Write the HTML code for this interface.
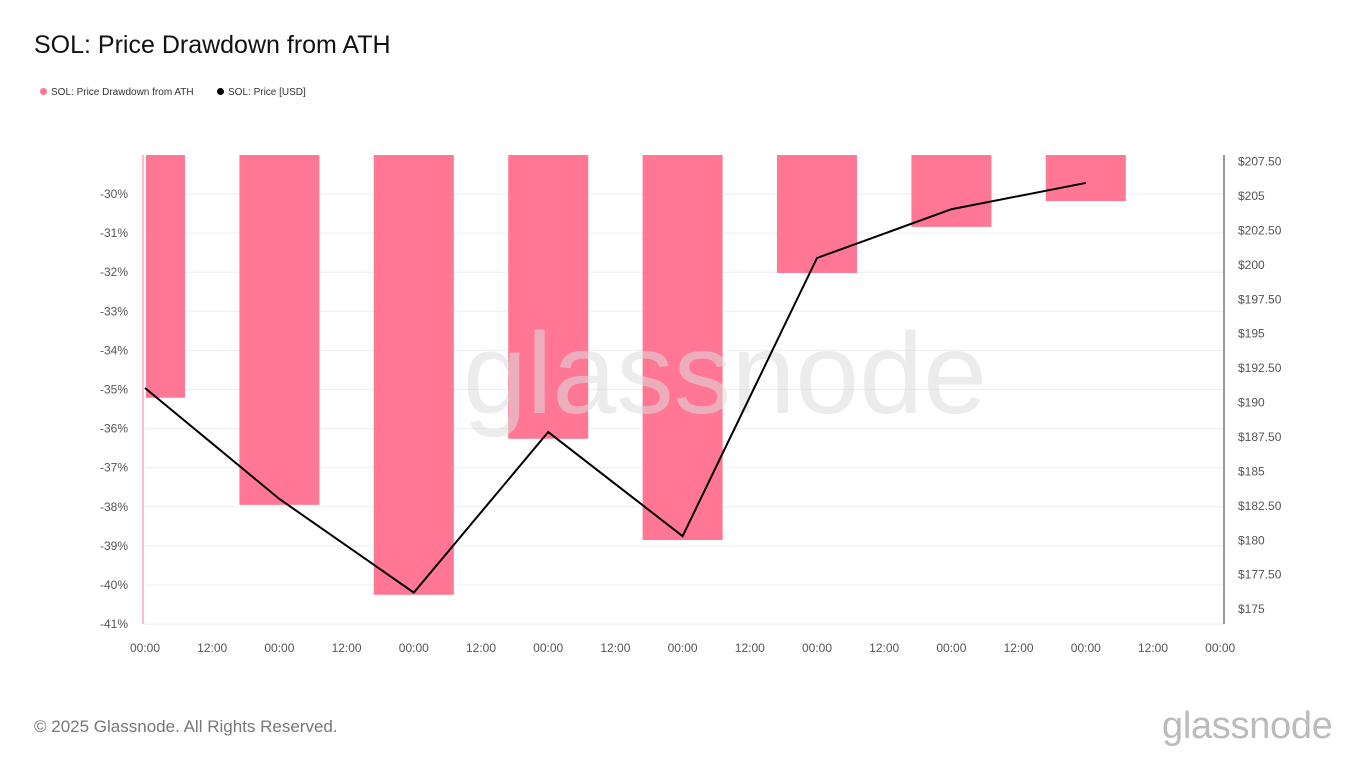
<!DOCTYPE html>
<html><head><meta charset="utf-8">
<style>
body{margin:0;width:1366px;height:768px;background:#fff;font-family:"Liberation Sans",sans-serif;overflow:hidden;position:relative}
.t{position:absolute}
</style></head><body>
<div class="t" style="left:34px;top:31px;font-size:25px;color:#111">SOL: Price Drawdown from ATH</div>
<div class="t" style="left:40px;top:87px;font-size:10px;color:#333"><span style="display:inline-block;width:7px;height:7px;border-radius:50%;background:#ff7794;margin-right:4px"></span>SOL: Price Drawdown from ATH</div>
<div class="t" style="left:217px;top:87px;font-size:10px;color:#333"><span style="display:inline-block;width:7px;height:7px;border-radius:50%;background:#000;margin-right:4px"></span>SOL: Price [USD]</div>
<svg id="c" width="1366" height="768" style="position:absolute;left:0;top:0"></svg>
<div class="t" style="left:34px;top:717px;font-size:17px;color:#777">© 2025 Glassnode. All Rights Reserved.</div>
<div class="t" style="left:1162px;top:705px;font-size:38px;color:#bbb;letter-spacing:-0.3px">glassnode</div>
<script>
const dayLabels=["00:00","12:00","00:00","12:00","00:00","12:00","00:00","12:00","00:00","12:00","00:00","12:00","00:00","12:00","00:00","12:00","00:00"];
const drawdown=[-35.21,-37.95,-40.25,-36.26,-38.85,-32.02,-30.84,-30.18];
const price=[191.06,183.0,176.2,187.86,180.3,200.5,204.04,205.95];
const leftTicks=[-30,-31,-32,-33,-34,-35,-36,-37,-38,-39,-40,-41];
const rightTicks=[207.5,205,202.5,200,197.5,195,192.5,190,187.5,185,182.5,180,177.5,175];
const svg=document.getElementById('c');const NS="http://www.w3.org/2000/svg";
function mk(t,a,p){const e=document.createElementNS(NS,t);for(const k in a)e.setAttribute(k,a[k]);(p||svg).appendChild(e);return e;}
const X0=145,DAY=134.4,TOP=155,BOT=624;
const x=i=>X0+i*DAY;
const yL=v=>194+(-30-v)*39.1;
const yR=v=>161.6+(207.5-v)*13.77;
leftTicks.forEach(v=>{const g=mk('line',{x1:X0,x2:1224,y1:yL(v),y2:yL(v),stroke:'#eeeeee'});

const t=mk('text',{x:128,y:yL(v)+4,'font-size':12,fill:'#555','text-anchor':'end'});t.textContent=v+'%';
});
rightTicks.forEach(v=>{const t=mk('text',{x:1238,y:yR(v)+4,'font-size':12,fill:'#555'});
t.textContent='$'+(Number.isInteger(v)?v:v.toFixed(2));
});
dayLabels.forEach((l,i)=>{const t=mk('text',{x:X0+i*DAY/2,y:652,'font-size':12,fill:'#555','text-anchor':'middle'});t.textContent=l;
});
drawdown.forEach((v,i)=>{let l=x(i)-40,r=x(i)+40;if(l<X0)l=X0+1;
const b=mk('rect',{x:l,y:TOP,width:r-l,height:yL(v)-TOP,fill:'#ff7794'});
});
const wm=mk('text',{x:725,y:413,'font-size':115,fill:'#dddddd','fill-opacity':0.55,'text-anchor':'middle','font-family':'Liberation Sans'});
wm.textContent='glassnode';

const ax=mk('line',{x1:143,x2:143,y1:TOP,y2:BOT,stroke:'#ff7794'});
const ar=mk('line',{x1:1224,x2:1224,y1:TOP,y2:BOT,stroke:'#333'});
const pl=mk('polyline',{points:price.map((v,i)=>x(i)+','+yR(v)).join(' '),fill:'none',stroke:'#000','stroke-width':2});

</script>
</body></html>
